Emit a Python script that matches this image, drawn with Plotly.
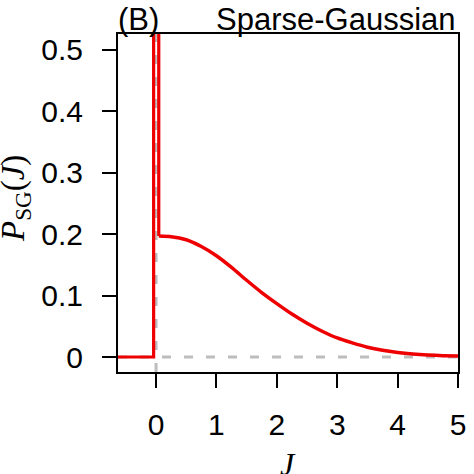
import plotly.graph_objects as go

# Data
spike_J = [-0.63, -0.04, -0.04, 0.045, 0.045]
spike_P = [0.0, 0.0, 1.0, 1.0, 0.197]

curve_J = [0.045, 0.25, 0.5, 0.75, 1.0, 1.25, 1.5, 1.75, 2.0, 2.25, 2.5,
           2.75, 3.0, 3.25, 3.5, 3.75, 4.0, 4.25, 4.5, 4.75, 5.0]
curve_P = [0.197, 0.196, 0.191, 0.180, 0.165, 0.146, 0.125, 0.105, 0.087,
           0.070, 0.055, 0.042, 0.031, 0.023, 0.016, 0.011, 0.0075, 0.005,
           0.0033, 0.0022, 0.0015]

x_ticks = [0, 1, 2, 3, 4, 5]
y_ticks = [0, 0.1, 0.2, 0.3, 0.4, 0.5]
y_tick_labels = ["0", "0.1", "0.2", "0.3", "0.4", "0.5"]

RED = "#ee0000"
GRAY = "#bdbdbd"
SANS = "Liberation Sans"
SERIF = "Liberation Serif"

fig = go.Figure()
fig.add_trace(go.Scatter(x=spike_J, y=spike_P, mode="lines",
                         line=dict(color=RED, width=3.2), hoverinfo="skip"))
fig.add_trace(go.Scatter(x=curve_J, y=curve_P, mode="lines",
                         line=dict(color=RED, width=3.5, shape="spline", smoothing=0.6),
                         hoverinfo="skip"))

fig.add_shape(type="line", xref="x", yref="paper", x0=0, x1=0, y0=0, y1=1,
              line=dict(color=GRAY, width=3, dash="9px,13px"), layer="below")
fig.add_shape(type="line", xref="paper", yref="y", x0=0, x1=1, y0=0, y1=0,
              line=dict(color=GRAY, width=3, dash="9px,13px"), layer="below")

axis_common = dict(showgrid=False, zeroline=False, showline=True, mirror=True,
                   linecolor="black", linewidth=2, ticks="outside", ticklen=14,
                   tickwidth=1.5, tickcolor="black",
                   tickfont=dict(family=SANS, size=30, color="black"))

fig.update_xaxes(range=[-0.63, 5.0], tickvals=x_ticks, ticktext=[str(v) for v in x_ticks],
                 ticklabelstandoff=11, **axis_common)
fig.update_yaxes(range=[-0.0244, 0.526], tickvals=y_ticks, ticktext=y_tick_labels,
                 ticklabelstandoff=13, **axis_common)

fig.add_annotation(text="(B)", xref="paper", yref="paper", x=0, y=1,
                   xanchor="left", yanchor="bottom", showarrow=False, yshift=-5, xshift=-2,
                   font=dict(family=SANS, size=31, color="black"))
fig.add_annotation(text="Sparse-Gaussian", xref="paper", yref="paper", x=1, y=1,
                   xanchor="right", yanchor="bottom", showarrow=False, xshift=0, yshift=-5,
                   font=dict(family=SANS, size=31, color="black"))
fig.add_annotation(text="<i>J</i>", xref="paper", yref="paper", x=0.5, y=0,
                   xanchor="center", yanchor="top", showarrow=False, yshift=-72,
                   font=dict(family=SERIF, size=32, color="black"))
fig.add_annotation(text="<i>P</i><sub>SG</sub>(<i>J</i>)", xref="paper", yref="paper",
                   x=0, y=0.5, xanchor="center", yanchor="middle", textangle=-90,
                   showarrow=False, xshift=-103, yshift=4,
                   font=dict(family=SERIF, size=33, color="black"))

fig.update_layout(width=474, height=474, showlegend=False,
                  margin=dict(l=118, r=8, t=34, b=102),
                  paper_bgcolor="white", plot_bgcolor="white")

fig.write_html("out.html")
